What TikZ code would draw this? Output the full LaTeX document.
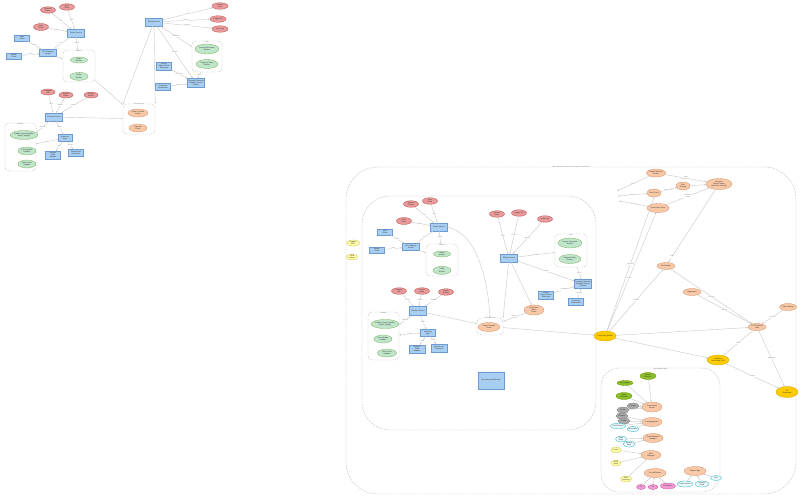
\documentclass[tikz,border=0pt]{standalone}
\usepackage{fontspec}
\setmainfont{Liberation Sans}
\usetikzlibrary{shapes.geometric,arrows.meta,positioning}

\definecolor{redfill}{HTML}{EA9A9A}
\definecolor{redline}{HTML}{B85450}
\definecolor{bluefill}{HTML}{A8CFF2}
\definecolor{blueline}{HTML}{6C9BD2}
\definecolor{greenfill}{HTML}{BFE6CB}
\definecolor{greenline}{HTML}{82B366}
\definecolor{orangefill}{HTML}{F9C8A6}
\definecolor{orangeline}{HTML}{D4946A}
\definecolor{goldfill}{HTML}{FFCC00}
\definecolor{goldline}{HTML}{D6A400}
\definecolor{limefill}{HTML}{8DC026}
\definecolor{limeline}{HTML}{6A9A10}
\definecolor{grayfill}{HTML}{A9A9A9}
\definecolor{grayline}{HTML}{808080}
\definecolor{cyanfill}{HTML}{E8F9FC}
\definecolor{cyanline}{HTML}{3CB8C8}
\definecolor{yellowfill}{HTML}{FFFFA8}
\definecolor{yellowline}{HTML}{CDBE4A}
\definecolor{pinkfill}{HTML}{F29AD4}
\definecolor{pinkline}{HTML}{C060A0}
\definecolor{edgecol}{HTML}{C8C8C8}
\definecolor{boxline}{HTML}{BDBDBD}

\tikzset{
  base/.style={inner sep=0pt, align=center, line width=0.35pt, text=black!80,
    font=\fontsize{1.9}{2.2}\selectfont},
  store/.style={base, ellipse, draw=redline, fill=redfill, minimum width=15pt, minimum height=6.5pt},
  svc/.style={base, rectangle, draw=blueline, fill=bluefill, minimum width=17pt, minimum height=8pt},
  part/.style={base, ellipse, draw=greenline, fill=greenfill, minimum width=18pt, minimum height=8pt},
  flow/.style={base, ellipse, draw=orangeline, fill=orangefill, minimum width=20pt, minimum height=9pt},
  hub/.style={base, ellipse, draw=goldline, fill=goldfill, minimum width=22pt, minimum height=10pt},
  src/.style={base, ellipse, draw=limeline, fill=limefill, minimum width=16pt, minimum height=7pt},
  tool/.style={base, ellipse, draw=grayline, fill=grayfill, minimum width=12pt, minimum height=6pt},
  sink/.style={base, ellipse, draw=cyanline, fill=cyanfill, minimum width=12pt, minimum height=5.5pt},
  note/.style={base, ellipse, draw=yellowline, fill=yellowfill, minimum width=11pt, minimum height=6pt},
  tag/.style={base, ellipse, draw=pinkline, fill=pinkfill, minimum width=10pt, minimum height=5pt},
  grp/.style={draw=boxline, dashed, dash pattern=on 1.2pt off 0.8pt, line width=0.35pt,
    rounded corners=4pt, inner sep=0pt},
  grptitle/.style={font=\fontsize{1.6}{1.9}\selectfont, text=black!60, fill=white, inner sep=0.3pt},
  link/.style={draw=edgecol, line width=0.4pt, -{Stealth[length=1.8pt,width=1.4pt]}},
  lbl/.style={font=\fontsize{1.5}{1.8}\selectfont, text=black!55, fill=white, inner sep=0.3pt, align=center}
}

\begin{document}
\begin{tikzpicture}[x=1pt,y=-1pt]
  \useasboundingbox (0,0) rectangle (800,497);
  \fill[white] (0,0) rectangle (800,497);

  \node[store]                  (a-r1) at (48,10) {Session\\Cache};
  \node[store]                  (a-r2) at (67,7)  {User\\Store};
  \node[store, minimum height=7pt] (a-r3) at (41,27) {Order\\Store};
  \node[svc]                    (a-svc) at (76,33) {Order Service};
  \node[svc, minimum width=15pt, minimum height=6pt] (a-c1) at (22,38) {Web\\Client};
  \node[svc, minimum width=15pt, minimum height=6pt] (a-c2) at (14,56) {Mobile\\Client};
  \node[svc, minimum height=7pt] (a-hub) at (48,53) {API Gateway\\Router};
  \node[grp, minimum width=32pt, minimum height=32pt] (a-grp) at (79,66) {};
  \node[grptitle, below=0.4pt of a-grp.north] {Workers};
  \node[part, minimum width=17pt, minimum height=6pt] (a-g1) at (79,60) {Order\\Worker};
  \node[part, below=9pt of a-g1] (a-g2) {Notify\\Worker};

  \node[svc]   (b-svc) at (154,22) {Billing Service};
  \node[store, minimum width=16pt] (b-r1) at (220,6)  {Invoice\\Store};
  \node[store, minimum width=16pt] (b-r2) at (218,19) {Ledger DB};
  \node[store, minimum width=16pt] (b-r3) at (220,29) {Audit Log};
  \node[grp, minimum width=30pt, minimum height=31pt] (b-grp) at (207,56.5) {};
  \node[grptitle, below=0.4pt of b-grp.north] {Jobs};
  \node[part, minimum width=24pt, minimum height=10pt] (b-g1) at (207,49) {Invoice Generator\\Worker};
  \node[part, minimum width=22pt, minimum height=9pt]  (b-g2) at (207,64) {Payment Retry\\Worker};
  \node[svc, minimum width=15pt] (b-c1) at (164,66) {Billing\\Admin Portal\\Web App};
  \node[svc, minimum height=9pt] (b-hub) at (196,83) {Payment Gateway\\Adapter Service\\(Stripe)};
  \node[svc, minimum width=15pt, minimum height=7pt] (b-c2) at (163,87) {Customer\\Dashboard};

  \node[store, minimum width=14pt, minimum height=6pt] (c-r1) at (48,92) {Catalog\\DB};
  \node[store, minimum width=14pt, minimum height=6pt] (c-r2) at (66,95) {Search\\Index};
  \node[store, minimum width=14pt, minimum height=6pt] (c-r3) at (91,95) {Media\\Bucket};
  \node[svc]   (c-svc) at (54,117) {Product Service};
  \node[grp, minimum width=31pt, minimum height=48pt] (c-grp) at (20.5,147) {};
  \node[grptitle, below=0.4pt of c-grp.north] {Handlers};
  \node[part, minimum width=22pt, minimum height=9pt] (c-g1) at (24,135) {Product Import Handler\\(batch, nightly)};
  \node[part] (c-g2) at (27,151) {Price Update\\Handler};
  \node[part] (c-g3) at (27,164) {Stock Level\\Handler};
  \node[svc, minimum width=14pt, minimum height=7pt] (c-sub) at (65,138) {Inventory\\Sync};
  \node[svc, minimum width=15pt] (c-b1) at (53,155) {Supplier\\Feed\\Adapter};
  \node[svc, minimum width=15pt, minimum height=7pt] (c-b2) at (76,153) {Warehouse\\Connector};

  \node[grp, minimum width=32pt, minimum height=30pt] (o-grp) at (139,119) {};
  \node[grptitle] at (o-grp.north) {Shared Events};
  \node[flow, minimum height=8pt] (o-e1) at (138,113) {Order Created\\Event};
  \node[flow, minimum width=18pt, minimum height=8pt] (o-e2) at (138,128) {Payment\\Event};

  \draw[link] (a-r1) -- node[lbl]{read} (a-svc);
  \draw[link] (a-r2) -- node[lbl]{read} (a-svc);
  \draw[link] (a-r3) -- node[lbl]{write} (a-svc);
  \draw[link] (a-svc) -- node[lbl]{queue} (a-grp);
  \draw[link] (a-hub) -- node[lbl]{route} (a-svc);
  \draw[link] (a-c1) -- node[lbl]{https} (a-hub);
  \draw[link] (a-c2) -- node[lbl]{https} (a-hub);
  \draw[link] (a-hub) -- node[lbl]{jobs} (a-grp);
  \draw[link] (a-grp) -- (o-grp);

  \draw[link] (b-svc) -- node[lbl]{stores} (b-r1);
  \draw[link] (b-svc) -- node[lbl]{posts to} (b-r2);
  \draw[link] (b-svc) -- node[lbl]{appends} (b-r3);
  \draw[link] (b-svc) -- node[lbl]{schedules} (b-grp);
  \draw[link] (b-svc) -- node[lbl]{charges} (b-hub);
  \draw[link] (b-c1) -- node[lbl]{manages} (b-hub);
  \draw[link] (b-c2) -- node[lbl]{pays via} (b-hub);
  \draw[link] (b-grp) -- node[lbl]{retries} (b-hub);
  \draw[link] (b-svc) -- (o-grp.north west);
  \draw[link] (b-svc) -- (o-grp.north east);

  \draw[link] (c-r1) -- node[lbl]{reads} (c-svc);
  \draw[link] (c-r2) -- node[lbl]{indexes} (c-svc);
  \draw[link] (c-r3) -- node[lbl]{uploads} (c-svc);
  \draw[link] (c-svc) -- node[lbl]{dispatch} (c-grp);
  \draw[link] (c-svc) -- node[lbl]{syncs} (c-sub);
  \draw[link] (c-sub) -- node[lbl]{notifies} (c-grp);
  \draw[link] (c-sub) -- node[lbl]{pulls} (c-b1);
  \draw[link] (c-sub) -- node[lbl]{pushes} (c-b2);
  \draw[link] (c-svc) -- (o-grp);

  \node[grp, dash pattern=on 2pt off 1pt, rounded corners=32pt, minimum width=450pt, minimum height=327pt] (sys) at (571,330.5) {};
  \node[grptitle] at (sys.north) {Target Platform (Production, all regions, event driven)};
  \node[grp, dash pattern=on 2pt off 1pt, rounded corners=28pt, minimum width=234pt, minimum height=234pt] (core) at (479,313) {};
  \node[grp, dash pattern=on 2pt off 1pt, rounded corners=18pt, minimum width=119pt, minimum height=124pt] (ops) at (660.5,430) {};
  \node[grptitle, below=0.5pt of ops.north] {Observability Stack};

  \node[note, minimum width=13pt] (y-a) at (353,243) {Legacy\\ERP};
  \node[note] (y-b) at (352,257) {CRM\\Export};

  \node[store]                  (ia-r1) at (411,204) {Session\\Cache};
  \node[store]                  (ia-r2) at (430,201) {User\\Store};
  \node[store, minimum height=7pt] (ia-r3) at (404,221) {Order\\Store};
  \node[svc]                    (ia-svc) at (439,227) {Order Service};
  \node[svc, minimum width=15pt, minimum height=6pt] (ia-c1) at (385,232) {Web\\Client};
  \node[svc, minimum width=15pt, minimum height=6pt] (ia-c2) at (377,250) {Mobile\\Client};
  \node[svc, minimum height=7pt] (ia-hub) at (411,247) {API Gateway\\Router};
  \node[grp, minimum width=32pt, minimum height=32pt] (ia-grp) at (442,260) {};
  \node[grptitle, below=0.4pt of ia-grp.north] {Workers};
  \node[part, minimum width=17pt, minimum height=6pt] (ia-g1) at (442,254) {Order\\Worker};
  \node[part, below=9pt of ia-g1] (ia-g2) {Notify\\Worker};

  \node[store] (ib-r1) at (497,214) {Invoice\\Store};
  \node[store] (ib-r2) at (519,213) {Ledger DB};
  \node[store] (ib-r3) at (545,219) {Audit Log};
  \node[svc]   (ib-svc) at (509,258) {Billing Service};
  \node[grp, minimum width=32pt, minimum height=33pt] (ib-grp) at (571,250.5) {};
  \node[grptitle, below=0.4pt of ib-grp.north] {Jobs};
  \node[part, minimum width=24pt, minimum height=10pt] (ib-g1) at (570,243) {Invoice Generator\\Worker};
  \node[part, minimum width=22pt, minimum height=9pt]  (ib-g2) at (570,259) {Payment Retry\\Worker};
  \node[svc, minimum height=9pt] (ib-hub) at (583,284) {Payment Gateway\\Adapter Service\\(Stripe)};
  \node[svc, minimum width=15pt] (ib-c1) at (546,295) {Billing\\Admin Portal\\Web App};
  \node[svc, minimum width=15pt, minimum height=7pt] (ib-c2) at (576,302) {Customer\\Dashboard};

  \node[store] (ic-r1) at (399,291) {Catalog\\DB};
  \node[store] (ic-r2) at (422,291) {Search\\Index};
  \node[store] (ic-r3) at (446,292) {Media\\Bucket};
  \node[svc, minimum height=9pt] (ic-svc) at (418,311) {Product Service};
  \node[grp, minimum width=31pt, minimum height=48pt] (ic-grp) at (383.5,336) {};
  \node[grptitle, below=0.4pt of ic-grp.north] {Handlers};
  \node[part, minimum width=24pt, minimum height=9pt] (ic-g1) at (385,324) {Product Import Handler\\(batch, nightly)};
  \node[part] (ic-g2) at (383,339) {Price Update\\Handler};
  \node[part, minimum width=19pt] (ic-g3) at (387,353) {Stock Level\\Handler};
  \node[svc, minimum width=15pt, minimum height=7pt] (ic-sub) at (428,333) {Inventory\\Sync};
  \node[svc, minimum width=16pt] (ic-b1) at (417,349) {Supplier\\Feed\\Adapter};
  \node[svc, minimum width=16pt] (ic-b2) at (439,348) {Warehouse\\Connector};

  \node[grp, minimum width=26pt, minimum height=17pt] (io-grp) at (490,326.5) {};
  \node[grptitle] at (io-grp.north) {Shared Events};
  \node[flow, minimum width=22pt] (io-e1) at (489,327) {Order Created\\Event};
  \node[flow, minimum height=10pt] (ib-or) at (534,310) {Settlement\\Batch\\Event};
  \node[svc, minimum width=26pt, minimum height=17pt] (dash) at (491,380.5) {Monitoring Dashboard};

  \draw[link] (ia-r1) -- node[lbl]{read} (ia-svc);
  \draw[link] (ia-r2) -- node[lbl]{read} (ia-svc);
  \draw[link] (ia-r3) -- node[lbl]{write} (ia-svc);
  \draw[link] (ia-svc) -- node[lbl]{queue} (ia-grp);
  \draw[link] (ia-hub) -- node[lbl]{route} (ia-svc);
  \draw[link] (ia-c1) -- node[lbl]{https} (ia-hub);
  \draw[link] (ia-c2) -- node[lbl]{https} (ia-hub);
  \draw[link] (ia-hub) -- node[lbl]{jobs} (ia-grp);
  \draw[link] (ia-svc.east) .. controls (478,234) and (488,282) .. (io-grp.north);

  \draw[link] (ib-r1) -- node[lbl]{stores} (ib-svc);
  \draw[link] (ib-r2) -- node[lbl]{posts to} (ib-svc);
  \draw[link] (ib-r3) -- node[lbl]{appends} (ib-svc);
  \draw[link] (ib-svc) -- node[lbl]{schedules} (ib-grp);
  \draw[link] (ib-svc) -- node[lbl]{charges} (ib-hub);
  \draw[link] (ib-grp) -- node[lbl]{retries} (ib-hub);
  \draw[link] (ib-c1) -- node[lbl]{manages} (ib-hub);
  \draw[link] (ib-c2) -- node[lbl]{pays via} (ib-hub);
  \draw[link] (ib-svc) -- (ib-or);
  \draw[link] (ib-svc) -- (io-grp.north east);

  \draw[link] (ic-r1) -- node[lbl]{reads} (ic-svc);
  \draw[link] (ic-r2) -- node[lbl]{indexes} (ic-svc);
  \draw[link] (ic-r3) -- node[lbl]{uploads} (ic-svc);
  \draw[link] (ic-svc) -- node[lbl]{dispatch} (ic-grp);
  \draw[link] (ic-svc) -- node[lbl]{syncs} (ic-sub);
  \draw[link] (ic-sub) -- node[lbl]{notifies} (ic-grp);
  \draw[link] (ic-sub) -- node[lbl]{pulls} (ic-b1);
  \draw[link] (ic-sub) -- node[lbl]{pushes} (ic-b2);
  \draw[link] (ic-svc) -- (io-grp);
  \draw[link] (ib-or) -- node[lbl]{batches\\events} (io-grp);

  \node[hub] (bus) at (605,336) {Event Bus (Kafka)};
  \node[hub] (lake) at (718,360) {Analytics\\Data Lake (S3)};
  \node[hub, minimum height=11pt] (bi) at (787,392) {BI\\Reporting};

  \node[flow, minimum width=18pt, minimum height=8pt] (u1) at (656,173) {Fraud Detection\\Service};
  \node[flow, minimum width=14pt, minimum height=8pt] (u2) at (683,186) {Risk\\Scoring};
  \node[flow, minimum width=26pt, minimum height=11pt] (u3) at (719,184) {Decision\\Rules Engine\\(real time scoring)};
  \node[flow, minimum width=14pt, minimum height=8pt] (u4) at (654,193) {Geo Check};
  \node[flow, minimum width=22pt] (u5) at (658,208) {Fraud Case Store};
  \node[flow, minimum width=18pt, minimum height=7pt] (u6) at (666,266) {Enrichment};
  \node[flow, minimum width=18pt, minimum height=7pt] (u7) at (692,292) {Aggregator};
  \node[flow, minimum width=17pt, minimum height=7pt] (u8) at (788,307) {Data Catalog};
  \node[flow, minimum width=18pt, minimum height=7pt] (u9) at (757,327) {ETL Pipeline\\Jobs};
  \coordinate (j1) at (617,191);
  \coordinate (j2) at (618,196);
  \coordinate (j3) at (619,201);

  \draw[link] (u1) -- node[lbl]{alerts} (j1);
  \draw[link] (u4) -- node[lbl]{geo data} (j2);
  \draw[link] (u5) -- node[lbl]{case ids} (j3);
  \draw[link] (u1) -- node[lbl]{sends\\transactions} (u3);
  \draw[link] (u4) -- node[lbl]{location ok} (u2);
  \draw[link] (u2) -- (u3);
  \draw[link] (u5) -- node[lbl]{decisions\\stored} (u3);
  \draw[link] (u3) -- node[lbl, pos=0.92]{flags} (u6);
  \draw[link] (bus) -- node[lbl]{payments} (u4.south);
  \draw[link] (bus) -- node[lbl, pos=0.45]{orders} (u5);
  \draw[link] (bus) -- node[lbl]{products} (u6);
  \draw[link] (u6) -- node[lbl]{enriched} (u9);
  \draw[link] (u7) -- node[lbl]{batches} (u9);
  \draw[link] (u8) -- node[lbl]{schema} (u9);
  \draw[link] (bus) -- (u9);
  \draw[link] (bus) -- (lake);
  \draw[link] (u9) -- node[lbl]{loads} (lake);
  \draw[link] (u9) -- node[lbl]{aggregates} (bi);
  \draw[link] (lake) -- node[lbl]{queries} (bi);
  \draw[link] (io-grp) -- (bus);

  \node[src] (m-l1) at (648,376) {Metrics\\Exporter};
  \node[src, minimum height=5pt] (m-l2) at (625,383) {Log Shipper};
  \node[src] (m-l3) at (624,396) {Trace\\Collector};
  \node[tool] (m-k1) at (633,406) {Scraper};
  \node[tool] (m-k2) at (623,410) {Parser};
  \node[tool] (m-k3) at (622,416) {Sampler};
  \node[tool] (m-k4) at (624,421) {Buffer};
  \node[flow, minimum height=10pt] (m-o1) at (652,407) {Prometheus\\Server};
  \node[flow] (m-o2) at (652,422) {Log Aggregator};
  \node[flow] (m-o3) at (653,438) {Trace Backend\\(Jaeger)};
  \node[flow] (m-o4) at (651,455) {Alert\\Manager};
  \node[flow, minimum width=22pt] (m-o5) at (655,473) {On-call Router};
  \node[flow, minimum width=22pt] (m-o6) at (695,471) {Status Page};
  \node[sink] (m-c1) at (618,426) {Cold Archive};
  \node[sink, minimum width=11pt] (m-c2) at (633,429) {Hot Index};
  \node[sink, minimum width=11pt, minimum height=6pt] (m-c3) at (621,439) {Span\\Store};
  \node[sink, minimum height=6pt] (m-c4) at (629,444) {Service\\Map};
  \node[note, minimum width=10pt] (m-y1) at (616,450) {Email};
  \node[note, minimum width=10pt] (m-y2) at (616,463) {Slack\\Hook};
  \node[note] (m-y3) at (626,479) {SMS\\Gateway};
  \node[tag, minimum width=9pt] (m-p1) at (641,487) {P1};
  \node[tag] (m-p2) at (653,487) {P2};
  \node[tag, minimum width=15pt, minimum height=6pt] (m-p3) at (668,486) {Escalation};
  \node[sink, minimum width=16pt, minimum height=6pt] (m-c5) at (685,484) {Public Status};
  \node[sink, minimum width=14pt, minimum height=6pt] (m-c6) at (702,484) {Incident\\Feed};
  \node[sink, minimum width=11pt, minimum height=5pt] (m-c7) at (716,478) {RSS};

  \draw[link] (m-l1) -- (m-o1);
  \draw[link] (m-l2) -- (m-o1);
  \draw[link] (m-l3) -- (m-o1);
  \draw[link] (m-k1) -- (m-o1);
  \draw[link] (m-k2) -- (m-o1);
  \draw[link] (m-k3) -- (m-o2);
  \draw[link] (m-k4) -- (m-o2);
  \draw[link] (m-c1) -- (m-o2);
  \draw[link] (m-c2) -- (m-o2);
  \draw[link] (m-c3) -- (m-o3);
  \draw[link] (m-c4) -- (m-o3);
  \draw[link] (m-y1) -- (m-o4);
  \draw[link] (m-y2) -- (m-o4);
  \draw[link] (m-y3) -- (m-o4);
  \draw[link] (m-p1) -- (m-o5);
  \draw[link] (m-p2) -- (m-o5);
  \draw[link] (m-p3) -- (m-o5);
  \draw[link] (m-c5) -- (m-o6);
  \draw[link] (m-c6) -- (m-o6);
  \draw[link] (m-c7) -- (m-o6);
\end{tikzpicture}
\end{document}
